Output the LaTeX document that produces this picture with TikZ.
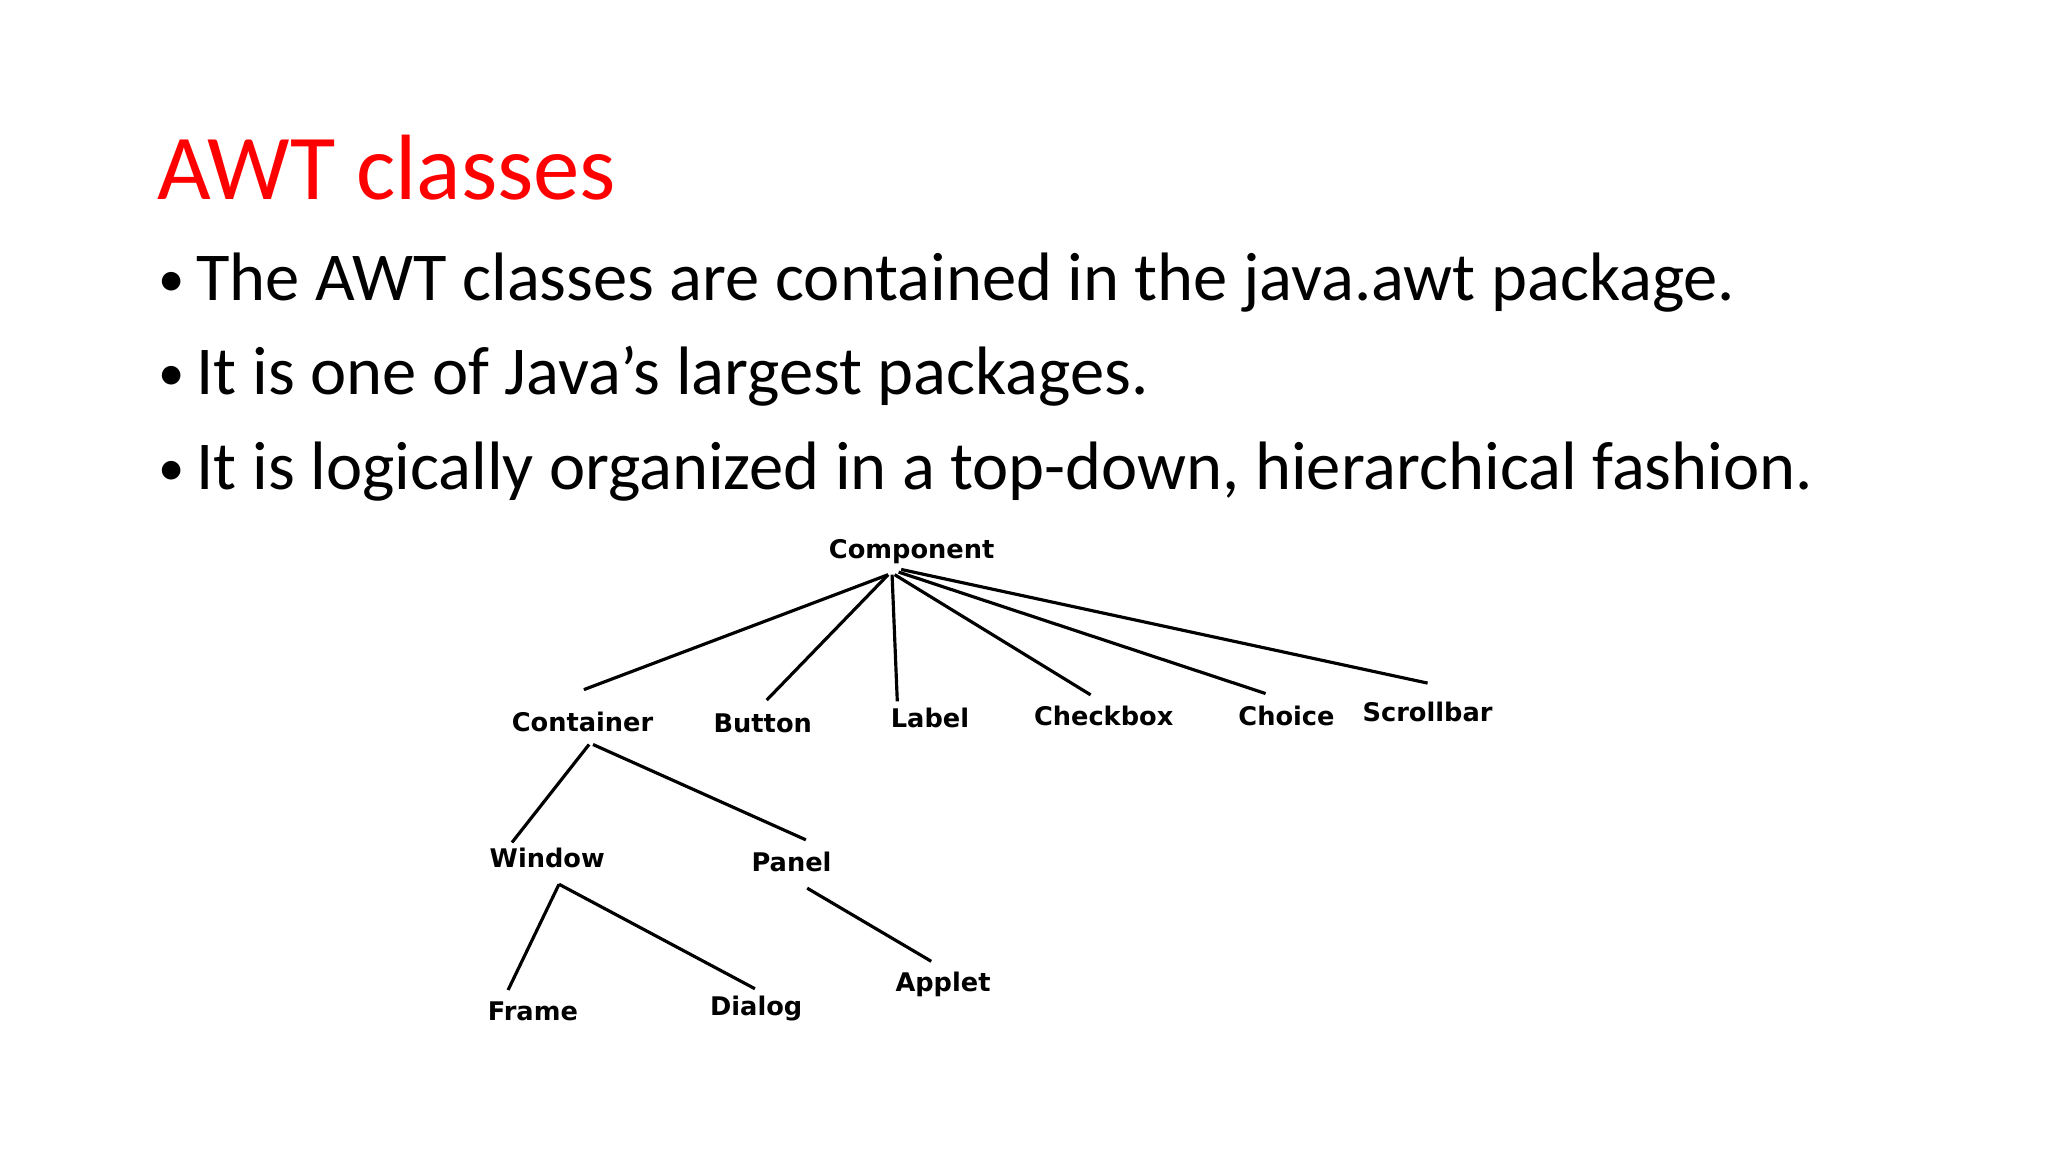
\documentclass[tikz,border=0pt]{standalone}
\usepackage{fontspec}
\setmainfont{Carlito}
\newfontfamily\treefont{DejaVu Sans}
\begin{document}
\begin{tikzpicture}[x=0.01306cm,y=-0.01306cm,
  cls/.style={font=\treefont\bfseries\fontsize{7.3pt}{8pt}\selectfont,inner sep=2pt},
  edge/.style={line width=0.9pt},
  bul/.style={anchor=base west,font=\fontsize{19.5pt}{22pt}\selectfont,inner sep=0pt},
  dot/.style={anchor=base west,font=\fontsize{15pt}{18pt}\selectfont,inner sep=0pt}]
\useasboundingbox (0,0) rectangle (1568,882);
\node[anchor=base west,inner sep=0pt,text=red,font=\fontsize{26.4pt}{30pt}\selectfont] (title) at (120,153) {AWT classes};
\node[dot] (d1) at (121,227) {•};
\node[bul] (b1) at (150,230) {The AWT classes are contained in the java.awt package.};
\node[dot] (d2) at (121,299) {•};
\node[bul] (b2) at (150,302) {It is one of Java’s largest packages.};
\node[dot] (d3) at (121,372) {•};
\node[bul] (b3) at (150,375) {It is logically organized in a top-down, hierarchical fashion.};
\node[cls] (comp) at (698,422) {Component};
\node[cls] (cont) at (446,553) {Container};
\node[cls] (butt) at (584,554) {Button};
\node[cls] (lab) at (712,550) {Label};
\node[cls] (chk) at (845,548) {Checkbox};
\node[cls] (cho) at (985,548) {Choice};
\node[cls] (scr) at (1093,545) {Scrollbar};
\node[cls] (win) at (419,657) {Window};
\node[cls] (pan) at (606,660) {Panel};
\node[cls] (fra) at (408,774) {Frame};
\node[cls] (dia) at (579,772) {Dialog};
\node[cls] (app) at (722,754) {Applet};
\draw[edge] ([shift={(-18,18)}]comp.center) -- ([shift={(1,-25)}]cont.center);
\draw[edge] ([shift={(-18,18)}]comp.center) -- ([shift={(3,-18)}]butt.center);
\draw[edge] ([shift={(-15,18)}]comp.center) -- ([shift={(-25,-13)}]lab.center);
\draw[edge] ([shift={(-13,18)}]comp.center) -- ([shift={(-10,-16)}]chk.center);
\draw[edge] ([shift={(-10,16)}]comp.center) -- ([shift={(-16,-17)}]cho.center);
\draw[edge] ([shift={(-8,14)}]comp.center) -- ([shift={(0,-22)}]scr.center);
\draw[edge] ([shift={(5,17)}]cont.center) -- ([shift={(-27,-12)}]win.center);
\draw[edge] ([shift={(8,17)}]cont.center) -- ([shift={(11,-17)}]pan.center);
\draw[edge] ([shift={(9,20)}]win.center) -- ([shift={(-19,-16)}]fra.center);
\draw[edge] ([shift={(9,20)}]win.center) -- ([shift={(-1,-15)}]dia.center);
\draw[edge] ([shift={(12,20)}]pan.center) -- ([shift={(-9,-18)}]app.center);
\end{tikzpicture}
\end{document}
